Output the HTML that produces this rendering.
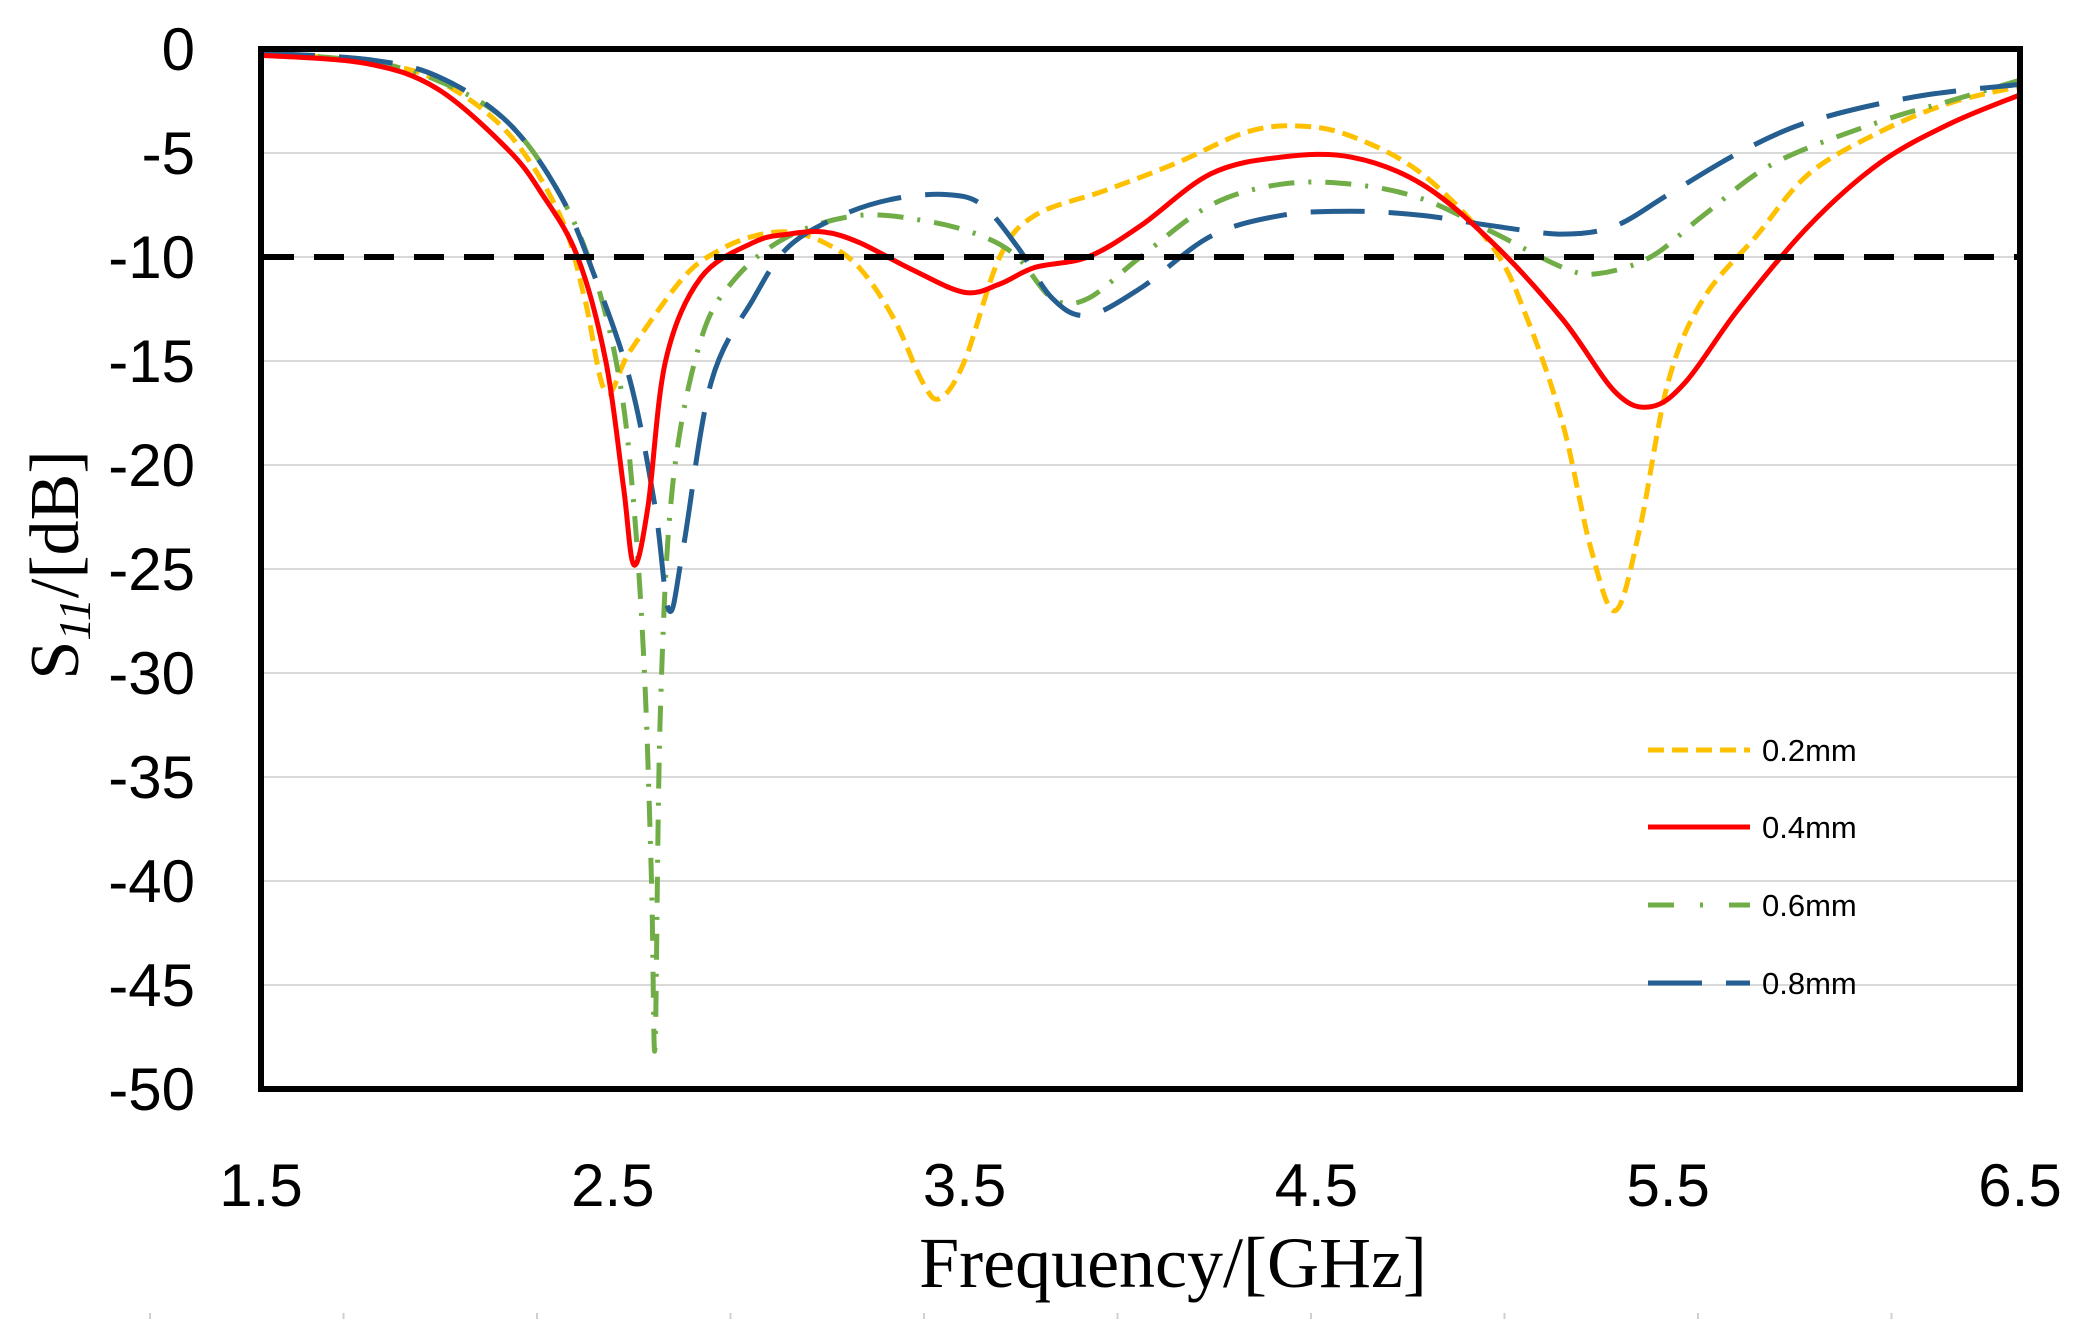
<!DOCTYPE html>
<html><head><meta charset="utf-8">
<style>
html,body{margin:0;padding:0;background:#fff;}
svg{display:block;}
</style></head>
<body>
<svg id="c" width="2079" height="1328" viewBox="0 0 2079 1328" xmlns="http://www.w3.org/2000/svg">
<g id="grid" stroke="#d9d9d9" stroke-width="2"></g>
<g id="series" fill="none" stroke-linejoin="round"></g>
<line x1="264" y1="257" x2="2018" y2="257" stroke="#000" stroke-width="6" stroke-dasharray="30,20"/>
<rect x="261" y="49" width="1759" height="1040" fill="none" stroke="#000" stroke-width="6"/>
<g font-family="Liberation Sans, sans-serif" font-size="60" fill="#000" text-anchor="end" id="ylab"></g>
<g font-family="Liberation Sans, sans-serif" font-size="60" fill="#000" text-anchor="middle" id="xlab"></g>
<g id="bt" stroke="#d0d0d0" stroke-width="2"></g>
<text x="1173" y="1287" font-family="Liberation Serif, serif" font-size="72" text-anchor="middle">Frequency/[GHz]</text>
<text transform="translate(78,565) rotate(-90)" font-family="Liberation Serif, serif" font-size="70" text-anchor="middle">S<tspan font-style="italic" font-size="46" dy="12">11</tspan><tspan dy="-12">/[dB]</tspan></text>
<g font-family="Liberation Sans, sans-serif" font-size="31" fill="#000">
<line x1="1648" y1="750" x2="1750" y2="750" stroke="#FFC000" stroke-width="5" stroke-dasharray="16,8"/>
<text x="1762" y="761">0.2mm</text>
<line x1="1648" y1="827" x2="1750" y2="827" stroke="#FF0000" stroke-width="5"/>
<text x="1762" y="838">0.4mm</text>
<line x1="1648" y1="905" x2="1750" y2="905" stroke="#70AD47" stroke-width="5" stroke-dasharray="26,26,3,26"/>
<text x="1762" y="916">0.6mm</text>
<line x1="1648" y1="983" x2="1750" y2="983" stroke="#255E91" stroke-width="5" stroke-dasharray="54,24"/>
<text x="1762" y="994">0.8mm</text>
</g>
</svg>
<script>
var L=261,R=2020,T=49,B=1089;
function X(f){return L+(f-1.5)*(R-L)/5;}
function Y(d){return T+(-d)*(B-T)/50;}
var ns="http://www.w3.org/2000/svg";
var g=document.getElementById('grid');
for(var d=-5;d>=-45;d-=5){var l=document.createElementNS(ns,'line');l.setAttribute('x1',L);l.setAttribute('x2',R);l.setAttribute('y1',Y(d));l.setAttribute('y2',Y(d));g.appendChild(l);}
var yl=document.getElementById('ylab');
for(var d=0;d>=-50;d-=5){var t=document.createElementNS(ns,'text');t.setAttribute('x',195);t.setAttribute('y',Y(d)+21);t.textContent=d;yl.appendChild(t);}
var xl=document.getElementById('xlab');
[1.5,2.5,3.5,4.5,5.5,6.5].forEach(function(f){var t=document.createElementNS(ns,'text');t.setAttribute('x',X(f));t.setAttribute('y',1206);t.textContent=f.toFixed(1);xl.appendChild(t);});
var bt=document.getElementById('bt');
for(var i=0;i<14;i++){var x=150+i*193.5;var l=document.createElementNS(ns,'line');l.setAttribute('x1',x);l.setAttribute('x2',x);l.setAttribute('y1',1313);l.setAttribute('y2',1319);bt.appendChild(l);}
function path(pts){
 var p=pts.map(function(a){return [X(a[0]),Y(a[1])];});
 var s='M'+p[0][0]+','+p[0][1];
 for(var i=0;i<p.length-1;i++){
  var p0=p[i-1]||p[i],p1=p[i],p2=p[i+1],p3=p[i+2]||p2;
  var c1=[p1[0]+(p2[0]-p0[0])/6,p1[1]+(p2[1]-p0[1])/6];
  var c2=[p2[0]-(p3[0]-p1[0])/6,p2[1]-(p3[1]-p1[1])/6];
  s+='C'+c1[0]+','+c1[1]+' '+c2[0]+','+c2[1]+' '+p2[0]+','+p2[1];
 }
 return s;
}
var S=[
{c:'#FFC000',d:'16,8',p:[[1.5,-0.2],[1.8,-0.6],[2.0,-1.5],[2.2,-4],[2.35,-8],[2.42,-12],[2.48,-16.5],[2.55,-14.5],[2.7,-11],[2.8,-9.7],[2.9,-9],[3.0,-8.8],[3.1,-9.3],[3.2,-10.5],[3.3,-13],[3.38,-16],[3.43,-16.8],[3.5,-15],[3.6,-10],[3.7,-8],[3.9,-6.8],[4.1,-5.5],[4.3,-4],[4.45,-3.7],[4.6,-4.2],[4.8,-6],[5.0,-9.5],[5.1,-13],[5.2,-18],[5.28,-24],[5.35,-27],[5.42,-23],[5.5,-16],[5.6,-12],[5.75,-9],[5.9,-6],[6.1,-4],[6.3,-2.6],[6.5,-1.8]]},
{c:'#70AD47',d:'26,14,3,14',p:[[1.5,-0.2],[1.8,-0.6],[2.0,-1.5],[2.2,-3.5],[2.35,-7],[2.45,-11],[2.52,-16],[2.56,-22],[2.59,-30],[2.61,-40],[2.62,-48],[2.635,-32],[2.67,-21],[2.75,-14],[2.85,-11],[3.0,-9],[3.2,-8],[3.4,-8.3],[3.55,-9],[3.65,-10],[3.75,-12],[3.85,-12],[4.0,-10],[4.2,-7.5],[4.4,-6.5],[4.6,-6.5],[4.8,-7.2],[5.0,-8.8],[5.2,-10.5],[5.3,-10.8],[5.45,-10],[5.6,-8],[5.8,-5.5],[6.1,-3.5],[6.3,-2.5],[6.5,-1.5]]},
{c:'#255E91',d:'54,24',p:[[1.5,-0.2],[1.8,-0.5],[2.0,-1.3],[2.2,-3.5],[2.35,-7],[2.45,-11],[2.55,-16],[2.62,-22],[2.66,-27],[2.7,-24],[2.78,-16],[2.9,-12],[3.0,-9.5],[3.15,-8],[3.3,-7.2],[3.45,-7],[3.55,-7.5],[3.65,-9.5],[3.75,-12],[3.85,-12.8],[4.0,-11.5],[4.2,-9],[4.4,-8],[4.6,-7.8],[4.8,-8],[5.0,-8.5],[5.2,-8.9],[5.35,-8.5],[5.5,-7],[5.7,-5],[5.9,-3.5],[6.2,-2.3],[6.5,-1.7]]},
{c:'#FF0000',d:'none',p:[[1.5,-0.3],[1.8,-0.7],[2.0,-1.9],[2.2,-4.8],[2.3,-7],[2.4,-10],[2.48,-15],[2.53,-21],[2.56,-24.8],[2.6,-22],[2.65,-15],[2.75,-11],[2.9,-9.3],[3.0,-8.9],[3.1,-8.8],[3.2,-9.3],[3.35,-10.6],[3.5,-11.7],[3.6,-11.3],[3.7,-10.5],[3.85,-10],[4.0,-8.5],[4.2,-6],[4.4,-5.2],[4.6,-5.2],[4.8,-6.5],[5.0,-9.3],[5.2,-13],[5.35,-16.5],[5.45,-17.2],[5.55,-16],[5.7,-12.5],[5.9,-8.5],[6.1,-5.5],[6.3,-3.6],[6.5,-2.2]]}
];
var sg=document.getElementById('series');
S.forEach(function(s){var e=document.createElementNS(ns,'path');e.setAttribute('d',path(s.p));e.setAttribute('stroke',s.c);e.setAttribute('stroke-width',5);if(s.d!='none')e.setAttribute('stroke-dasharray',s.d);sg.appendChild(e);});
</script>
</body></html>
